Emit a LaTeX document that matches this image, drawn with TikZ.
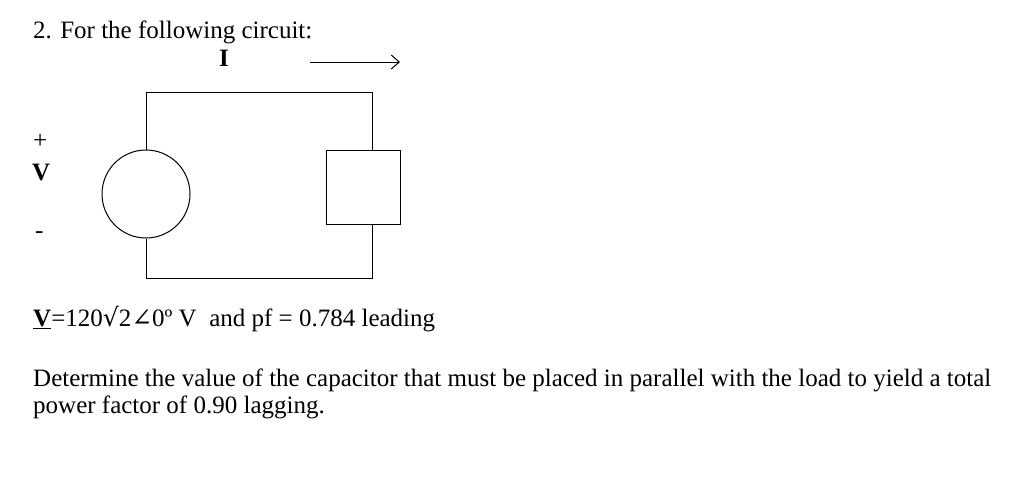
\documentclass[tikz,border=0pt]{standalone}
\usepackage{fontspec}
\usetikzlibrary{arrows.meta}
\setmainfont{Liberation Serif}
\newfontfamily\symf{DejaVu Serif}
\begin{document}
\begin{tikzpicture}[x=1pt,y=-1pt,
  txt/.style={anchor=base west,inner sep=0pt,font=\fontsize{25}{28}\selectfont},
  wire/.style={line width=1pt}]
\useasboundingbox (0,0) rectangle (1024,491);
\node[txt] (t1) at (33,38) {2. For the following circuit:};
\node[txt] (tI) at (219,66) {\textbf{I}};
\coordinate (a1) at (310,62); \coordinate (a2) at (400,62);
\draw[wire,-{Straight Barb[length=8pt,width=14pt]}] (a1) -- (a2);
\node[txt] (plus) at (33,148) {+};
\node[txt] (tV) at (32,180) {\textbf{V}};
\node[txt] (minus) at (35,238) {-};
\node[draw,wire,circle,minimum size=88pt,inner sep=0pt] (src) at (146,194) {};
\node[draw,wire,minimum width=74pt,minimum height=74pt,inner sep=0pt] (load) at (363,187) {};
\coordinate (tl) at (147,92); \coordinate (tr) at (372,92);
\coordinate (bl) at (147,278); \coordinate (br) at (372,278);
\draw[wire] (src.north) -- (src.north |- tl) -- (tr) -- (load.north -| tr);
\draw[wire] (src.south) -- (src.south |- bl) -- (br) -- (load.south -| br);
\node[txt] (eq) at (33,326) {\underline{\textbf{V}}=120{\symf √}2{\symf ∠}0º V \ and pf = 0.784 leading};
\node[txt] (p1) at (33,386) {Determine the value of the capacitor that must be placed in parallel with the load to yield a total};
\node[txt] (p2) at (33,413) {power factor of 0.90 lagging.};
\end{tikzpicture}
\end{document}
